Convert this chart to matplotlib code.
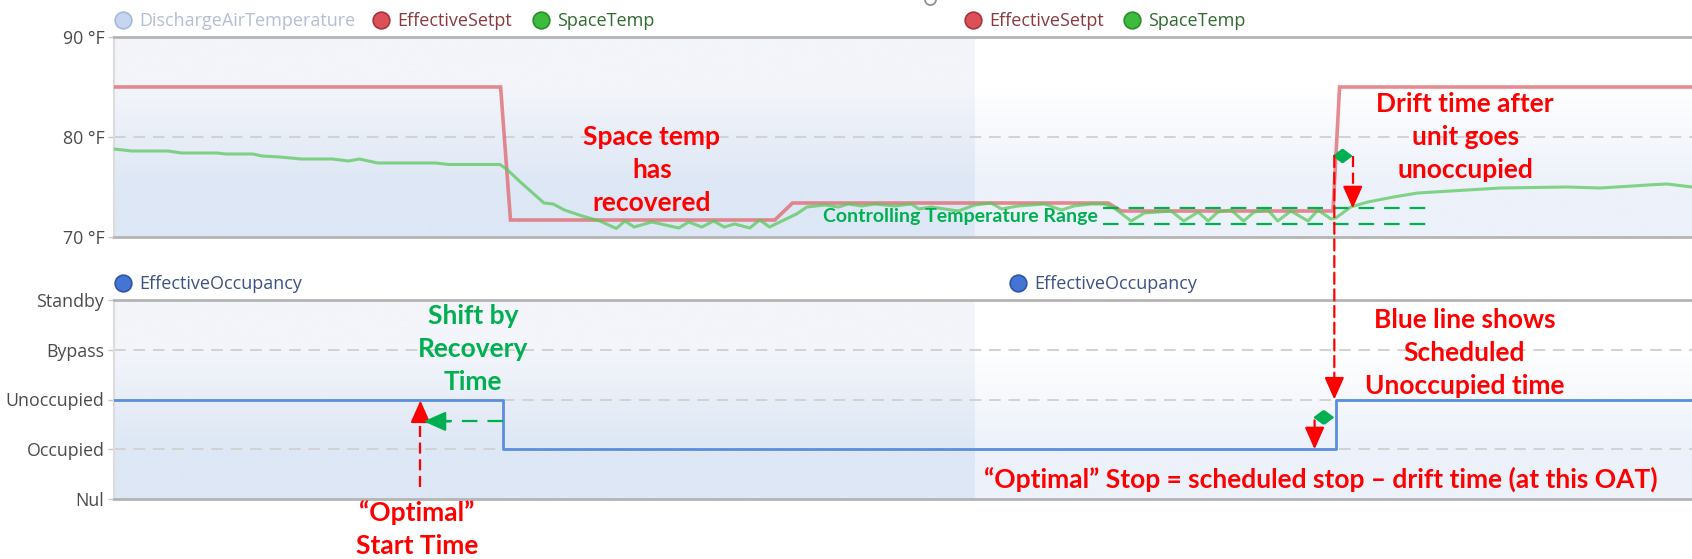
import numpy as np
import matplotlib
matplotlib.use('Agg')
import matplotlib.pyplot as plt
from matplotlib.lines import Line2D
from matplotlib.patches import ConnectionPatch

# ---------------- data ----------------
time_span = [0, 24]                       # hours shown on the x axis
temp_ticks = [70, 80, 90]
temp_tick_labels = ['70 °F', '80 °F', '90 °F']
occ_levels = [0, 1, 2, 3, 4]
occ_labels = ['Nul', 'Occupied', 'Unoccupied', 'Bypass', 'Standby']

setpt_t = [0, 5.88, 6.03, 10.05, 10.32, 15.12, 15.32, 18.54, 18.64, 24]
setpt_v = [85, 85, 71.7, 71.7, 73.4, 73.4, 72.6, 72.6, 85, 85]

space_t = [0.0, 0.27, 0.82, 1.03, 1.56, 1.70, 2.11, 2.25, 2.52, 2.85, 3.32, 3.57,
           3.73, 4.01, 4.89, 5.09, 5.87, 5.97, 6.18, 6.54, 6.68, 6.85, 7.12, 7.39,
           7.64, 7.77, 7.91, 8.18, 8.59, 8.74, 8.94, 9.12, 9.28, 9.44, 9.67, 9.82,
           9.97, 10.19, 10.38, 10.54, 10.81, 11.02, 11.17, 11.37, 11.57, 11.87,
           12.13, 12.24, 12.43, 12.84, 13.09, 13.34, 13.50, 13.75, 14.15, 14.41,
           14.60, 14.86, 15.06, 15.21, 15.47, 15.67, 16.08, 16.27, 16.49, 16.64,
           16.79, 16.99, 17.18, 17.34, 17.55, 17.70, 17.90, 18.16, 18.31, 18.51,
           18.58, 18.81, 19.07, 19.46, 19.83, 20.33, 21.09, 22.10, 22.60, 23.10,
           23.32, 23.62, 24.0]
space_v = [78.8, 78.6, 78.6, 78.4, 78.4, 78.3, 78.3, 78.1, 78.0, 77.8, 77.8, 77.6,
           77.8, 77.4, 77.4, 77.25, 77.25, 76.8, 75.5, 73.4, 73.3, 72.7, 72.1, 71.6,
           70.85, 71.6, 71.0, 71.5, 70.9, 71.5, 71.0, 71.6, 71.0, 71.3, 70.9, 71.7,
           71.0, 71.7, 72.3, 73.0, 73.2, 73.0, 73.3, 73.1, 73.3, 73.1,
           73.3, 72.8, 73.0, 72.6, 73.2, 73.4, 72.8, 73.1, 73.3, 72.7,
           73.1, 73.3, 73.3, 72.9, 71.6, 72.4, 72.6, 71.6, 72.5, 71.6,
           72.5, 72.7, 71.6, 72.5, 72.7, 71.6, 72.6, 71.6, 72.7, 71.8,
           71.9, 73.0, 73.5, 74.0, 74.4, 74.6, 74.9, 75.0, 74.9, 75.1,
           75.2, 75.3, 75.0]

occ_t = [0, 5.92, 18.58, 24]
occ_v = [2, 1, 2, 2]

shade_end = 13.1                  # end of the darker shaded period
range_t = [15.04, 19.95]          # controlling temperature range lines
range_hi = 72.87
range_lo = 71.27

optimal_start = 4.66
scheduled_start = 5.92
scheduled_stop = 18.56
optimal_stop = 18.26
drift_end = 18.84

# ---------------- figure ----------------
W, H = 1692, 559
fig = plt.figure(figsize=(W / 100, H / 100), dpi=100)
fig.patch.set_facecolor('white')

UI = ['Open Sans', 'DejaVu Sans']
ANN = ['Lato', 'DejaVu Sans']
RED = '#ff0000'
GRN = '#00b050'


def fx(px):
    return px / W


def fy(py):
    return 1 - py / H


AX_L = 114
ax1 = fig.add_axes([fx(AX_L), fy(237), 1 - fx(AX_L), fy(37) - fy(237)])
ax2 = fig.add_axes([fx(AX_L), fy(499), 1 - fx(AX_L), fy(300) - fy(499)])


def shade(ax, ylo, yhi):
    left = np.array([[[243, 245, 250]], [[221, 231, 245]]]) / 255.0
    right = np.array([[[255, 255, 255]], [[236, 241, 250]]]) / 255.0
    ax.imshow(left, extent=[time_span[0], shade_end, ylo, yhi], aspect='auto',
              interpolation='bilinear', zorder=0)
    ax.imshow(right, extent=[shade_end, time_span[1], ylo, yhi], aspect='auto',
              interpolation='bilinear', zorder=0)


def style(ax, ticks, labels, grid_vals):
    ax.spines['right'].set_visible(False)
    ax.spines['left'].set_color('#dcdcdc')
    ax.spines['left'].set_linewidth(1.5)
    for s in ['top', 'bottom']:
        ax.spines[s].set_color('#b4b4b4')
        ax.spines[s].set_linewidth(2)
    ax.set_xticks([])
    ax.set_yticks(ticks)
    ax.set_yticklabels(labels, family=UI, fontsize=12.8, color='#4a4a4a')
    ax.tick_params(axis='y', length=4, width=1, color='#c8c8c8', pad=3)
    for g in grid_vals:
        ax.axhline(g, color='#d2d2d2', lw=1.4, ls=(0, (6, 4)), zorder=1)


shade(ax1, 70, 90)
shade(ax2, 0, 4)
style(ax1, temp_ticks, temp_tick_labels, [80])
style(ax2, occ_levels, occ_labels, [1, 2, 3])

ax1.plot(setpt_t, setpt_v, color='#e0646c', lw=2.6, alpha=0.75, zorder=3,
         solid_joinstyle='miter')
ax1.plot(space_t, space_v, color='#5cc85c', lw=2.2, alpha=0.75, zorder=4)
ax2.plot(occ_t, occ_v, drawstyle='steps-post', color='#5a8ee0', lw=2, zorder=3)

ax1.set_xlim(time_span)
ax1.set_ylim(70, 90)
ax2.set_xlim(time_span)
ax2.set_ylim(0, 4)

# ---------------- legends ----------------
def legend_entry(xc, yc, label, mcol, ecol, tcol):
    fig.add_artist(Line2D([fx(xc)], [fy(yc)], marker='o', markersize=12,
                          markerfacecolor=mcol, markeredgecolor=ecol,
                          markeredgewidth=1.2,
                          linestyle='', transform=fig.transFigure))
    fig.text(fx(xc + 16), fy(yc + 1), label, family=UI, fontsize=13, color=tcol,
             ha='left', va='center')


legend_entry(123, 20, 'DischargeAirTemperature', '#c6d6f0', '#a4b9de', '#b3bfd3')
legend_entry(381, 20, 'EffectiveSetpt', '#dc5158', '#a83238', '#8a3a3e')
legend_entry(541, 20, 'SpaceTemp', '#3cbc3c', '#2a8c2a', '#2f6a2f')
legend_entry(973, 20, 'EffectiveSetpt', '#dc5158', '#a83238', '#8a3a3e')
legend_entry(1132, 20, 'SpaceTemp', '#3cbc3c', '#2a8c2a', '#2f6a2f')
legend_entry(123, 283, 'EffectiveOccupancy', '#4474d4', '#2e55a8', '#3d5283')
legend_entry(1018, 283, 'EffectiveOccupancy', '#4474d4', '#2e55a8', '#3d5283')

# ---------------- annotations (top) ----------------
FS = 19
LS = 1.45
tk = dict(family=ANN, fontweight='bold', ha='center', va='center')
ax1.text(8.18, 76.7, 'Space temp\nhas\nrecovered', color=RED, fontsize=FS,
         linespacing=LS, zorder=6, **tk)
ax1.text(20.55, 80.0, 'Drift time after\nunit goes\nunoccupied', color=RED,
         fontsize=FS, linespacing=LS, zorder=6, **tk)
ax1.text(14.97, 72.03, 'Controlling Temperature Range', color=GRN, fontsize=14,
         family=ANN, fontweight='bold', ha='right', va='center', zorder=6)

dash = (0, (7, 4.5))
for v in (range_hi, range_lo):
    ax1.plot(range_t, [v, v], color=GRN, lw=1.6, ls=dash, zorder=5)

arrow_red = dict(arrowstyle='-|>,head_length=0.9,head_width=0.4', color=RED,
                 lw=1.6, shrinkA=0, shrinkB=0, mutation_scale=15)
arrow_grn2 = dict(arrowstyle='<|-|>,head_length=0.4,head_width=0.3', color=GRN,
                  lw=1.8, shrinkA=0, shrinkB=0, mutation_scale=14)
arrow_grn = dict(arrowstyle='-|>,head_length=0.9,head_width=0.4', color=GRN,
                 lw=1.6, shrinkA=0, shrinkB=0, mutation_scale=15)

# drift arrow on top panel
ax1.annotate('', xy=(drift_end, 78.1), xytext=(scheduled_stop - 0.03, 78.1),
             arrowprops=arrow_grn2, zorder=7)
ax1.plot([drift_end, drift_end], [78.1, 73.9], color=RED, lw=1.6,
         ls=(0, (5, 2.5)), zorder=6)
ax1.annotate('', xy=(drift_end, range_hi), xytext=(drift_end, 74.3),
             arrowprops=arrow_red, zorder=7)

# long dashed line linking both panels
con = ConnectionPatch(xyA=(scheduled_stop, 78.1), coordsA=ax1.transData,
                      xyB=(scheduled_stop, 2.3), coordsB=ax2.transData,
                      color=RED, lw=1.6, ls=(0, (5, 2.5)), zorder=6)
fig.add_artist(con)
ax2.annotate('', xy=(scheduled_stop, 2.0), xytext=(scheduled_stop, 2.4),
             arrowprops=arrow_red, zorder=7)

# ---------------- annotations (bottom) ----------------
ax2.text(5.46, 3.02, 'Shift by\nRecovery\nTime', color=GRN, fontsize=FS,
         linespacing=LS, zorder=6, **tk)
ax2.text(optimal_start - 0.05, -0.6, '\u201cOptimal\u201d\nStart Time', color=RED,
         fontsize=FS, linespacing=LS, clip_on=False, zorder=6, **tk)
ax2.text(20.54, 2.94, 'Blue line shows\nScheduled\nUnoccupied time', color=RED,
         fontsize=FS, linespacing=LS, zorder=6, **tk)
ax2.text(18.35, 0.40,
         '\u201cOptimal\u201d Stop = scheduled stop \u2013 drift time (at this OAT)',
         color=RED, fontsize=FS, zorder=6, **tk)

# optimal start arrow
ax2.plot([optimal_start, optimal_start], [0.24, 1.8], color=RED, lw=1.6,
         ls=(0, (5, 2.5)), zorder=6)
ax2.annotate('', xy=(optimal_start, 1.98), xytext=(optimal_start, 1.6),
             arrowprops=arrow_red, zorder=7)
# shift arrow
ax2.plot([scheduled_start, optimal_start + 0.3], [1.56, 1.56], color=GRN, lw=1.6,
         ls=dash, zorder=6)
ax2.annotate('', xy=(optimal_start + 0.05, 1.56), xytext=(optimal_start + 0.45, 1.56),
             arrowprops=arrow_grn, zorder=7)
# optimal stop arrows
ax2.annotate('', xy=(optimal_stop - 0.02, 1.64), xytext=(scheduled_stop, 1.64),
             arrowprops=arrow_grn2, zorder=7)
ax2.annotate('', xy=(optimal_stop, 1.0), xytext=(optimal_stop, 1.58),
             arrowprops=arrow_red, zorder=7)

# small grey ring at the top edge
fig.add_artist(Line2D([fx(930)], [fy(-1)], marker='o', markersize=8,
                      markerfacecolor='none', markeredgecolor='#8a8a8a',
                      markeredgewidth=1.2, linestyle='', transform=fig.transFigure))

fig.savefig('out.png', dpi=100, facecolor='white')
